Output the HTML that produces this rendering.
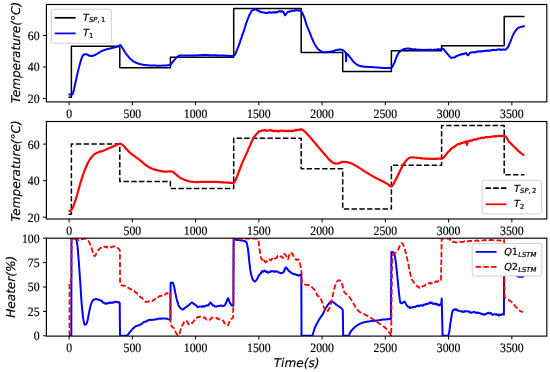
<!DOCTYPE html>
<html><head><meta charset="utf-8"><title>Temperature control plot</title>
<style>html,body{margin:0;padding:0;background:#fff;width:550px;height:372px;overflow:hidden}svg{display:block;text-rendering:geometricPrecision}</style>
</head><body>
<svg width="550" height="372" viewBox="0 0 550 372">
<rect width="550" height="372" fill="#fff"/>
<defs>
<clipPath id="c0"><rect x="46.40" y="4.50" width="500.40" height="97.40"/></clipPath>
<clipPath id="c1"><rect x="46.40" y="121.50" width="500.40" height="97.50"/></clipPath>
<clipPath id="c2"><rect x="46.40" y="238.20" width="500.40" height="97.90"/></clipPath>
</defs>
<polyline clip-path="url(#c0)" points="68.60,97.30 71.40,97.30 71.40,46.30 119.80,46.30 119.80,67.80 170.40,67.80 170.40,57.30 233.70,57.30 233.70,8.50 301.20,8.50 301.20,52.50 342.70,52.50 342.70,71.40 391.40,71.40 391.40,50.80 441.60,50.80 441.60,45.80 504.20,45.80 504.20,16.40 524.50,16.40" fill="none" stroke="#000" stroke-width="1.50" stroke-linejoin="round" stroke-linecap="butt"/>
<polyline clip-path="url(#c0)" points="68.4,94.6 69.0,94.6 69.6,94.6 70.2,94.6 70.8,94.6 71.4,94.6 72.0,94.6 72.5,94.1 73.0,92.9 73.5,91.4 74.0,89.5 74.5,87.1 75.0,84.7 75.5,82.4 76.0,80.2 76.5,77.9 77.0,75.6 77.5,73.3 78.0,71.1 78.5,69.0 79.1,67.0 79.6,65.1 80.1,63.2 80.6,61.4 81.1,59.8 81.6,58.3 82.1,57.0 82.6,56.0 83.1,55.3 83.6,54.8 84.1,54.5 84.6,54.4 85.2,54.3 85.8,54.2 86.3,54.2 86.9,54.3 87.4,54.6 88.0,55.0 88.6,55.3 89.1,55.5 89.7,55.8 90.2,55.9 90.8,56.0 91.4,56.0 91.9,55.9 92.5,55.8 93.1,55.7 93.7,55.5 94.3,55.3 94.8,55.1 95.4,54.8 96.0,54.5 96.5,54.2 97.1,53.9 97.6,53.6 98.2,53.2 98.7,52.9 99.3,52.5 100.0,52.1 100.6,51.7 101.3,51.3 101.9,51.0 102.6,50.7 103.2,50.4 103.9,50.2 104.5,49.9 105.2,49.7 105.8,49.5 106.5,49.4 107.1,49.2 107.8,49.1 108.4,48.9 109.0,48.7 109.7,48.6 110.3,48.4 111.0,48.3 111.6,48.1 112.2,47.9 112.9,47.8 113.5,47.6 114.2,47.5 114.8,47.3 115.5,47.2 116.1,47.0 116.8,46.9 117.4,46.7 118.1,46.5 118.6,46.2 119.2,45.7 119.8,45.3 120.3,45.1 120.9,45.4 121.4,46.3 122.0,47.3 122.6,48.3 123.2,49.2 123.8,50.3 124.4,51.3 125.0,52.2 125.6,53.1 126.3,54.0 126.9,54.9 127.6,55.7 128.2,56.5 128.8,57.2 129.4,57.8 129.9,58.4 130.5,59.0 131.1,59.5 131.7,60.0 132.2,60.4 132.8,60.9 133.3,61.3 133.9,61.6 134.5,61.9 135.1,62.2 135.7,62.5 136.3,62.8 136.9,63.1 137.5,63.3 138.1,63.5 138.7,63.7 139.3,63.9 139.9,64.1 140.6,64.2 141.2,64.4 141.8,64.5 142.4,64.6 143.0,64.7 143.6,64.8 144.3,64.9 144.9,65.0 145.5,65.1 146.1,65.1 146.8,65.2 147.4,65.3 148.0,65.3 148.6,65.3 149.3,65.4 149.9,65.4 150.5,65.5 151.2,65.5 151.8,65.5 152.4,65.6 153.1,65.6 153.7,65.6 154.3,65.6 154.9,65.6 155.6,65.6 156.2,65.7 156.8,65.7 157.4,65.7 158.1,65.7 158.7,65.7 159.3,65.7 159.9,65.7 160.6,65.7 161.2,65.7 161.8,65.6 162.5,65.6 163.1,65.6 163.7,65.6 164.4,65.5 165.0,65.5 165.6,65.5 166.2,65.4 166.8,65.4 167.4,65.3 168.0,65.3 168.6,65.2 169.2,65.1 169.8,65.0 170.5,64.8 171.0,64.3 171.5,63.5 172.0,62.7 172.6,62.0 173.2,61.3 173.7,60.6 174.3,59.9 174.9,59.3 175.5,58.7 176.0,58.0 176.6,57.4 177.1,56.9 177.7,56.5 178.3,56.2 178.8,55.9 179.4,55.6 179.9,55.5 180.5,55.4 181.1,55.4 181.7,55.4 182.3,55.4 182.9,55.4 183.5,55.4 184.1,55.4 184.7,55.4 185.3,55.4 185.8,55.4 186.4,55.4 187.0,55.5 187.6,55.5 188.1,55.5 188.7,55.6 189.3,55.6 189.8,55.6 190.4,55.6 191.0,55.6 191.6,55.6 192.3,55.6 192.9,55.5 193.5,55.5 194.1,55.5 194.8,55.5 195.4,55.4 196.0,55.4 196.6,55.4 197.2,55.3 197.9,55.3 198.5,55.3 199.1,55.3 199.7,55.2 200.4,55.2 201.0,55.2 201.6,55.1 202.2,55.1 202.9,55.1 203.5,55.1 204.1,55.1 204.7,55.1 205.3,55.1 205.9,55.1 206.6,55.1 207.2,55.1 207.8,55.1 208.4,55.1 209.0,55.2 209.6,55.2 210.2,55.2 210.8,55.2 211.5,55.2 212.1,55.2 212.7,55.2 213.3,55.3 213.9,55.3 214.5,55.3 215.1,55.3 215.7,55.3 216.4,55.3 217.0,55.4 217.6,55.4 218.2,55.4 218.8,55.4 219.4,55.4 220.0,55.5 220.6,55.5 221.2,55.5 221.8,55.5 222.3,55.6 222.9,55.6 223.5,55.6 224.1,55.6 224.7,55.7 225.3,55.7 225.9,55.7 226.5,55.8 227.1,55.8 227.7,55.8 228.3,55.8 228.8,55.8 229.4,55.9 230.0,55.9 230.6,55.9 231.2,55.9 231.8,55.9 232.4,55.9 232.9,55.8 233.5,55.7 234.1,55.4 234.6,55.1 235.3,54.1 235.9,52.5 236.6,50.8 237.2,49.3 237.7,48.0 238.3,46.7 238.8,45.3 239.4,44.0 240.0,42.0 240.6,39.9 241.1,38.7 241.7,37.1 242.3,34.9 242.9,33.8 243.4,32.2 244.0,30.4 244.5,28.7 245.1,26.9 245.7,24.9 246.2,23.1 246.8,21.9 247.3,20.1 247.9,18.6 248.5,17.4 249.0,15.7 249.6,14.6 250.1,13.9 250.7,12.6 251.4,11.1 252.0,10.5 252.7,10.1 253.3,9.7 253.8,9.7 254.4,9.5 255.0,9.4 255.6,9.3 256.1,9.4 256.7,9.7 257.2,10.2 257.8,10.8 258.4,10.5 258.9,10.4 259.5,10.9 260.0,11.8 260.6,12.2 261.2,12.1 261.8,12.2 262.4,12.3 263.1,12.4 263.7,12.4 264.3,12.6 264.9,12.8 265.5,13.0 266.1,13.0 266.7,12.9 267.3,12.9 267.9,12.8 268.5,12.6 269.1,12.0 269.7,12.1 270.3,12.7 271.0,12.8 271.6,12.6 272.2,12.5 272.8,12.3 273.5,12.4 274.1,12.7 274.7,12.3 275.3,11.9 276.0,12.2 276.6,12.7 277.2,12.0 277.9,11.7 278.5,11.7 279.1,11.1 279.8,10.9 280.4,11.3 281.0,11.8 281.5,11.3 282.1,11.3 282.6,11.5 283.2,11.7 283.8,12.8 284.5,14.2 285.1,15.3 285.8,14.6 286.4,13.7 287.1,12.9 287.7,12.0 288.3,11.9 288.9,11.7 289.5,11.2 290.1,11.4 290.7,11.5 291.3,11.1 291.9,10.5 292.5,10.8 293.1,10.8 293.7,10.7 294.3,10.9 294.9,10.4 295.5,10.1 296.1,10.2 296.7,10.3 297.4,10.4 298.0,10.3 298.6,10.3 299.2,10.6 299.9,10.7 300.5,10.8 301.2,11.3 301.8,12.0 302.3,13.0 302.9,14.2 303.4,15.5 304.0,16.9 304.6,18.4 305.1,20.1 305.7,22.0 306.2,23.8 306.8,25.4 307.4,26.9 308.0,28.3 308.5,29.7 309.1,31.1 309.7,32.5 310.3,33.9 310.8,35.4 311.4,36.8 311.9,38.2 312.5,39.5 313.1,40.8 313.6,42.0 314.2,43.2 314.7,44.3 315.3,45.2 315.9,46.1 316.5,47.0 317.1,47.8 317.7,48.6 318.3,49.3 318.9,49.8 319.5,50.3 320.1,50.7 320.7,51.1 321.3,51.5 322.0,51.8 322.6,52.1 323.2,52.2 323.8,52.3 324.4,52.3 325.0,52.3 325.6,52.2 326.2,52.2 326.8,52.1 327.4,52.1 328.0,52.0 328.6,51.9 329.3,51.9 329.9,51.8 330.5,51.7 331.2,51.5 331.8,51.4 332.4,51.3 333.1,51.2 333.7,51.0 334.3,50.8 334.8,50.6 335.4,50.4 335.9,50.1 336.5,50.0 337.1,49.9 337.6,49.8 338.2,49.8 338.8,49.7 339.4,49.6 339.9,49.6 340.5,49.6 341.1,49.7 341.6,49.8 342.1,50.0 342.7,50.2 343.3,50.5 343.9,51.0 344.5,51.5 345.1,51.9 345.7,52.6 346.1,61.3 346.4,53.4 347.0,53.7 347.6,54.3 348.2,55.0 348.8,55.7 349.4,56.4 350.0,57.1 350.6,57.9 351.2,58.6 351.7,59.4 352.3,60.2 352.8,61.0 353.4,61.6 354.0,62.2 354.6,62.8 355.2,63.3 355.9,63.8 356.5,64.3 357.1,64.7 357.7,65.0 358.3,65.3 358.9,65.5 359.5,65.8 360.1,66.0 360.7,66.1 361.3,66.3 361.9,66.4 362.5,66.5 363.0,66.5 363.6,66.6 364.2,66.7 364.8,66.7 365.3,66.7 365.9,66.8 366.5,66.8 367.0,66.9 367.6,66.9 368.2,66.9 368.8,67.0 369.5,67.0 370.1,67.0 370.7,67.1 371.3,67.1 372.0,67.1 372.6,67.2 373.2,67.2 373.8,67.2 374.4,67.3 374.9,67.3 375.5,67.4 376.1,67.4 376.7,67.5 377.2,67.5 377.8,67.5 378.4,67.6 379.0,67.6 379.6,67.7 380.1,67.7 380.7,67.8 381.3,67.8 381.9,67.8 382.6,67.9 383.2,67.9 383.8,68.0 384.5,68.0 385.1,68.0 385.7,68.1 386.4,68.1 387.0,68.1 387.6,68.1 388.2,68.1 388.8,68.0 389.4,68.0 390.0,67.9 390.6,67.9 391.2,67.8 391.8,67.5 392.3,66.8 392.9,65.8 393.4,64.7 394.0,63.6 394.6,62.4 395.1,60.9 395.7,59.3 396.2,57.8 396.8,56.5 397.4,55.3 398.0,54.3 398.5,53.2 399.1,52.4 399.7,51.7 400.3,51.2 400.8,50.7 401.4,50.3 401.9,50.0 402.5,49.7 403.1,49.5 403.7,49.2 404.3,48.8 404.9,49.0 405.5,48.9 406.1,48.7 406.7,48.4 407.3,48.4 408.0,48.7 408.6,48.5 409.2,48.6 409.9,49.0 410.5,48.8 411.1,48.9 411.8,49.2 412.4,49.3 413.0,49.3 413.6,49.4 414.3,49.6 414.9,49.3 415.5,49.1 416.1,49.4 416.8,49.9 417.4,49.8 418.0,49.6 418.6,49.8 419.2,49.7 419.8,49.7 420.4,49.7 421.0,49.7 421.6,49.9 422.2,49.9 422.9,49.8 423.5,50.0 424.1,49.9 424.7,49.8 425.3,50.1 425.9,50.0 426.5,49.8 427.1,50.0 427.7,50.0 428.3,49.7 428.9,49.8 429.5,50.0 430.1,49.8 430.8,49.6 431.4,49.7 432.0,49.9 432.6,49.9 433.2,49.9 433.8,49.8 434.4,49.5 435.0,49.7 435.6,49.9 436.2,49.8 436.9,49.4 437.5,49.2 438.1,49.3 438.7,49.3 439.4,49.4 440.0,49.6 440.6,49.2 441.2,49.1 441.8,48.9 442.3,48.7 442.9,48.6 443.6,49.0 444.2,49.9 444.9,50.8 445.5,51.5 446.0,52.2 446.6,52.9 447.1,53.6 447.7,54.2 448.3,54.9 448.9,55.6 449.5,56.3 450.1,56.9 450.7,57.4 451.3,57.8 451.9,57.9 452.5,57.7 453.0,57.5 453.6,57.6 454.1,57.5 454.7,57.3 455.3,57.0 455.8,56.4 456.4,56.1 456.9,56.2 457.5,55.9 458.1,55.4 458.6,55.2 459.2,55.0 459.8,54.8 460.4,54.8 461.0,54.5 461.7,53.9 462.3,54.0 462.9,54.2 463.5,54.1 464.1,53.7 464.6,53.6 465.2,53.6 465.7,53.2 466.3,53.1 467.0,54.4 467.7,55.3 468.3,55.0 468.8,54.3 469.4,53.6 469.9,52.9 470.5,52.5 471.1,52.5 471.7,52.4 472.3,52.4 472.9,52.2 473.5,52.2 474.1,52.4 474.6,52.3 475.2,52.3 475.8,52.3 476.4,52.1 477.0,51.6 477.6,51.6 478.2,51.6 478.8,51.3 479.4,51.5 480.0,51.5 480.6,51.3 481.2,51.4 481.9,51.5 482.5,51.1 483.1,50.9 483.7,51.1 484.3,51.1 484.9,51.0 485.5,50.9 486.1,50.6 486.7,50.6 487.3,50.8 487.9,50.6 488.5,50.5 489.1,50.8 489.7,50.8 490.3,50.6 490.9,50.2 491.5,50.1 492.1,50.4 492.7,50.1 493.3,49.8 493.9,49.8 494.5,49.9 495.1,49.9 495.8,49.9 496.4,50.0 497.0,49.7 497.7,49.4 498.3,49.4 498.9,49.4 499.6,49.3 500.2,49.7 500.8,50.1 501.3,49.7 501.9,49.5 502.5,49.6 503.0,49.5 503.6,49.5 504.2,49.7 504.7,49.7 505.3,49.7 506.0,49.4 506.6,48.8 507.3,48.0 507.9,47.2 508.4,46.2 509.0,45.0 509.5,43.7 510.1,42.4 510.7,41.0 511.2,39.5 511.8,38.0 512.3,36.6 512.9,35.3 513.5,34.2 514.0,33.1 514.6,32.1 515.1,31.3 515.7,30.5 516.3,29.8 516.9,29.1 517.4,28.5 518.0,28.1 518.6,27.7 519.2,27.5 519.7,27.3 520.3,27.1 520.8,26.9 521.4,26.8 522.0,26.7 522.5,26.5 523.1,26.4 523.7,26.3 524.2,26.1 524.8,26.0" fill="none" stroke="#0000ff" stroke-width="2.00" stroke-linejoin="round" stroke-linecap="butt"/>
<polyline clip-path="url(#c1)" points="68.60,214.20 71.40,214.20 71.40,144.10 119.80,144.10 119.80,181.60 170.40,181.60 170.40,188.60 233.70,188.60 233.70,138.30 301.20,138.30 301.20,168.80 342.70,168.80 342.70,209.00 391.40,209.00 391.40,165.30 441.60,165.30 441.60,125.60 504.20,125.60 504.20,174.80 524.50,174.80" fill="none" stroke="#000" stroke-width="1.50" stroke-linejoin="round" stroke-linecap="butt" stroke-dasharray="5.4,2.34"/>
<polyline clip-path="url(#c1)" points="68.7,211.7 69.3,211.2 70.0,210.8 70.6,210.4 71.3,209.9 71.9,209.2 72.5,208.2 73.1,206.9 73.7,205.3 74.3,203.5 74.9,201.8 75.5,200.0 76.1,198.0 76.8,195.8 77.4,193.7 78.0,191.5 78.6,189.4 79.2,187.3 79.8,185.2 80.4,183.0 81.1,180.9 81.7,178.9 82.3,177.0 82.9,175.2 83.5,173.4 84.2,171.7 84.8,170.1 85.4,168.6 86.0,167.1 86.6,165.7 87.2,164.3 87.8,163.0 88.5,161.8 89.1,160.7 89.7,159.7 90.3,158.8 90.9,157.9 91.6,157.1 92.2,156.4 92.8,155.8 93.4,155.2 94.0,154.7 94.6,154.2 95.2,153.8 95.9,153.5 96.5,153.1 97.1,152.8 97.7,152.5 98.3,152.3 98.9,152.0 99.5,151.8 100.1,151.6 100.7,151.4 101.3,151.3 101.9,151.2 102.5,151.0 103.1,150.8 103.7,150.5 104.4,150.3 105.0,150.0 105.6,149.7 106.2,149.4 106.9,149.1 107.5,148.8 108.1,148.5 108.7,148.3 109.2,148.0 109.8,147.8 110.4,147.6 110.9,147.4 111.5,147.1 112.1,146.9 112.7,146.7 113.2,146.4 113.8,146.2 114.4,145.9 115.0,145.6 115.6,145.4 116.2,145.1 116.8,144.8 117.4,144.5 118.0,144.3 118.7,144.0 119.3,143.8 120.0,143.7 120.6,143.8 121.2,144.1 121.7,144.4 122.3,144.8 122.9,145.2 123.5,145.8 124.1,146.4 124.7,147.1 125.3,147.8 125.9,148.5 126.5,149.1 127.1,149.7 127.7,150.3 128.3,151.0 128.9,151.6 129.5,152.2 130.1,152.8 130.7,153.3 131.3,153.8 131.8,154.2 132.4,154.7 133.0,155.1 133.6,155.5 134.1,155.9 134.7,156.3 135.3,156.7 135.8,157.1 136.4,157.5 137.0,158.0 137.6,158.4 138.3,158.9 138.9,159.4 139.5,159.8 140.1,160.3 140.8,160.8 141.4,161.3 142.0,161.8 142.6,162.3 143.1,162.8 143.6,163.3 144.2,163.8 144.8,164.3 145.4,164.8 146.0,165.3 146.7,165.7 147.3,166.1 147.9,166.5 148.5,166.9 149.1,167.2 149.7,167.6 150.4,167.9 151.0,168.2 151.6,168.5 152.2,168.7 152.9,169.0 153.5,169.2 154.1,169.4 154.7,169.6 155.2,169.7 155.8,169.9 156.4,170.0 156.9,170.2 157.5,170.3 158.1,170.4 158.7,170.6 159.2,170.7 159.8,170.8 160.4,170.9 161.0,171.1 161.7,171.2 162.3,171.3 162.9,171.4 163.5,171.5 164.2,171.6 164.8,171.7 165.4,171.7 166.0,171.7 166.6,171.6 167.2,171.6 167.9,171.5 168.5,171.5 169.1,171.4 169.7,171.4 170.3,171.4 170.8,171.5 171.4,171.5 171.9,171.6 172.5,171.7 173.1,171.9 173.6,172.3 174.2,172.9 174.7,173.4 175.3,173.9 175.9,174.4 176.5,174.9 177.1,175.4 177.7,175.9 178.3,176.4 178.9,176.9 179.5,177.3 180.1,177.7 180.8,178.1 181.4,178.4 182.0,178.7 182.7,179.0 183.3,179.3 183.9,179.6 184.6,179.9 185.2,180.1 185.8,180.3 186.4,180.5 187.1,180.7 187.7,180.9 188.3,181.1 188.9,181.2 189.6,181.4 190.2,181.5 190.8,181.6 191.4,181.7 192.1,181.8 192.7,181.8 193.3,181.9 194.0,182.0 194.6,182.0 195.2,182.1 195.9,182.1 196.5,182.1 197.1,182.1 197.7,182.1 198.3,182.1 198.9,182.0 199.5,182.0 200.1,182.0 200.8,181.9 201.4,181.9 202.0,181.9 202.6,181.9 203.2,181.8 203.8,181.8 204.4,181.8 205.0,181.8 205.6,181.8 206.2,181.8 206.8,181.8 207.4,181.8 208.0,181.8 208.6,181.8 209.2,181.8 209.8,181.8 210.4,181.8 211.0,181.8 211.6,181.8 212.2,181.8 212.8,181.8 213.4,181.8 214.0,181.8 214.6,181.8 215.2,181.8 215.8,181.9 216.4,181.9 217.0,181.9 217.7,182.0 218.3,182.0 218.9,182.1 219.5,182.1 220.1,182.2 220.7,182.2 221.3,182.3 221.9,182.3 222.5,182.3 223.1,182.4 223.7,182.4 224.3,182.4 224.9,182.5 225.5,182.5 226.2,182.5 226.8,182.6 227.4,182.6 228.0,182.7 228.6,182.7 229.2,182.7 229.8,182.8 230.4,182.8 231.0,182.8 231.6,182.9 232.1,182.9 232.7,183.0 233.3,183.0 233.9,182.7 234.4,182.0 235.0,181.2 235.6,180.1 236.2,178.8 236.8,177.2 237.4,175.5 238.1,173.7 238.7,172.0 239.3,170.5 239.9,168.9 240.4,167.4 241.0,166.0 241.6,164.5 242.2,163.1 242.8,161.7 243.4,160.4 244.0,159.0 244.6,157.7 245.2,156.4 245.8,155.1 246.4,153.8 247.0,152.5 247.6,151.1 248.1,149.8 248.7,148.4 249.3,147.1 250.0,145.5 250.7,143.9 251.3,142.3 252.0,140.9 252.7,139.7 253.3,138.5 253.9,137.4 254.6,136.4 255.1,135.7 255.7,135.0 256.2,134.4 256.8,133.9 257.3,133.3 258.0,132.7 258.6,131.7 259.3,131.0 260.0,131.2 260.6,131.2 261.2,131.1 261.8,130.7 262.3,130.3 262.9,130.3 263.5,130.4 264.1,130.6 264.6,130.3 265.2,130.0 265.8,130.2 266.3,130.6 266.9,130.9 267.4,130.5 268.0,130.5 268.6,130.5 269.2,130.4 269.8,130.4 270.4,130.0 271.0,130.5 271.6,130.7 272.2,130.3 272.8,130.8 273.4,131.2 274.0,130.8 274.6,130.9 275.2,131.1 275.8,130.9 276.4,130.8 277.0,130.9 277.6,131.3 278.2,131.3 278.8,131.4 279.4,131.0 280.1,130.7 280.7,130.7 281.3,130.6 281.9,130.5 282.5,130.6 283.1,130.9 283.7,130.8 284.3,130.8 284.9,131.0 285.6,130.8 286.2,131.1 286.8,131.2 287.4,130.9 288.1,130.9 288.7,131.1 289.3,130.9 289.9,131.0 290.6,131.0 291.2,130.8 291.8,131.3 292.5,130.8 293.1,130.7 293.7,130.8 294.4,130.6 295.0,130.4 295.6,129.9 296.3,129.9 296.9,130.3 297.5,130.1 298.2,129.7 298.8,130.0 299.4,130.0 300.1,129.3 300.7,129.3 301.3,129.4 301.9,129.6 302.5,129.8 303.1,130.1 303.7,130.6 304.3,131.1 304.9,131.6 305.5,132.2 306.1,132.8 306.6,133.4 307.2,134.1 307.8,134.7 308.4,135.4 309.0,136.0 309.6,136.7 310.2,137.4 310.8,138.1 311.4,138.8 312.0,139.5 312.6,140.2 313.1,140.8 313.7,141.5 314.3,142.2 314.9,142.9 315.5,143.6 316.1,144.3 316.7,145.0 317.3,145.7 317.9,146.4 318.5,147.1 319.1,147.8 319.7,148.5 320.2,149.2 320.8,149.8 321.4,150.5 322.0,151.2 322.6,151.9 323.2,152.6 323.8,153.3 324.4,154.0 325.0,154.7 325.6,155.4 326.2,156.1 326.8,156.8 327.4,157.5 327.9,158.2 328.5,158.9 329.1,159.5 329.7,160.1 330.3,160.7 330.9,161.2 331.5,161.7 332.1,162.2 332.7,162.5 333.2,162.8 333.8,163.0 334.4,163.2 334.9,163.4 335.4,163.6 336.0,163.6 336.6,163.6 337.2,163.5 337.8,163.5 338.4,163.4 339.0,163.3 339.6,163.0 340.2,162.7 340.8,162.4 341.4,162.1 342.0,161.9 342.6,161.8 343.2,161.8 343.8,161.8 344.5,161.9 345.1,161.9 345.7,162.0 346.3,162.1 347.0,162.2 347.6,162.3 348.2,162.4 348.8,162.5 349.5,162.7 350.1,162.9 350.7,163.2 351.4,163.4 352.0,163.7 352.6,164.0 353.3,164.3 353.9,164.6 354.5,164.9 355.1,165.2 355.8,165.6 356.4,166.0 357.0,166.4 357.6,166.8 358.3,167.2 358.9,167.6 359.5,168.0 360.1,168.4 360.8,168.8 361.4,169.2 362.0,169.6 362.7,170.1 363.3,170.5 363.9,170.9 364.6,171.3 365.2,171.7 365.8,172.1 366.4,172.5 367.1,172.9 367.7,173.2 368.3,173.6 368.9,174.0 369.6,174.4 370.2,174.7 370.8,175.1 371.4,175.5 372.1,175.8 372.7,176.2 373.3,176.5 374.0,176.9 374.6,177.2 375.2,177.5 375.9,177.9 376.5,178.2 377.1,178.5 377.7,178.8 378.4,179.1 379.0,179.4 379.6,179.7 380.2,180.1 380.9,180.4 381.5,180.7 382.1,181.0 382.7,181.3 383.4,181.7 384.0,182.0 384.6,182.4 385.3,182.7 385.9,183.1 386.5,183.4 387.2,183.8 387.8,184.2 388.4,184.6 389.0,185.1 389.6,185.6 390.1,186.1 390.7,186.4 391.3,186.5 391.9,186.2 392.5,185.5 393.1,184.5 393.8,183.4 394.4,182.1 395.0,181.0 395.6,179.9 396.2,178.7 396.9,177.4 397.5,176.2 398.1,174.8 398.8,173.5 399.4,172.2 400.0,171.0 400.6,169.9 401.1,168.7 401.7,167.6 402.3,166.5 402.9,165.4 403.4,164.4 404.0,163.5 404.6,162.7 405.2,161.9 405.8,161.1 406.3,160.5 406.9,159.8 407.5,159.3 408.1,158.7 408.8,158.2 409.4,157.8 410.0,157.6 410.6,157.5 411.2,157.5 411.8,157.4 412.4,157.4 413.0,157.4 413.6,157.4 414.2,157.5 414.9,157.5 415.5,157.6 416.1,157.7 416.8,157.8 417.4,157.8 418.0,157.9 418.6,158.0 419.2,158.0 419.8,158.1 420.3,158.2 420.9,158.2 421.5,158.3 422.1,158.4 422.7,158.4 423.2,158.5 423.8,158.5 424.4,158.6 425.0,158.6 425.6,158.6 426.2,158.7 426.8,158.7 427.3,158.7 427.9,158.7 428.5,158.7 429.1,158.8 429.7,158.8 430.2,158.8 430.8,158.8 431.4,158.8 432.0,158.8 432.6,158.8 433.2,158.8 433.7,158.8 434.3,158.8 434.9,158.8 435.5,158.8 436.1,158.8 436.6,158.8 437.2,158.7 437.8,158.7 438.4,158.7 439.0,158.7 439.6,158.7 440.1,158.7 440.7,158.6 441.3,158.6 442.0,158.4 442.6,158.1 443.3,157.7 444.0,157.1 444.7,156.3 445.4,155.4 446.1,154.5 446.7,153.6 447.4,152.9 448.0,152.1 448.6,151.4 449.2,151.1 449.7,150.6 450.3,149.7 450.9,149.2 451.5,148.7 452.1,147.9 452.8,147.6 453.4,147.4 454.1,146.8 454.7,146.4 455.3,146.1 455.9,145.5 456.5,145.1 457.1,144.7 457.8,144.3 458.4,144.0 459.0,144.0 459.6,144.1 460.2,143.6 460.8,143.0 461.4,143.2 462.1,143.2 462.7,142.8 463.3,142.5 463.9,142.3 464.5,142.4 465.1,142.1 465.6,141.7 466.2,141.4 467.0,145.0 467.8,141.6 468.4,141.0 469.0,141.1 469.6,140.7 470.2,140.5 470.9,140.7 471.5,140.6 472.1,140.4 472.7,140.1 473.3,139.7 473.9,139.6 474.5,139.6 475.1,139.5 475.7,139.2 476.3,139.3 476.9,139.3 477.5,139.1 478.1,138.8 478.7,138.5 479.3,138.5 479.9,138.4 480.5,138.1 481.1,137.9 481.7,137.8 482.3,137.7 482.8,137.9 483.4,138.0 484.0,137.8 484.6,137.5 485.2,137.3 485.8,137.1 486.4,137.0 487.0,137.2 487.6,137.3 488.2,137.1 488.8,137.0 489.4,137.0 490.0,136.9 490.6,136.8 491.2,136.8 491.8,136.6 492.4,136.5 493.0,136.4 493.6,136.3 494.2,136.4 494.8,136.5 495.4,136.2 495.9,136.3 496.5,136.4 497.1,136.2 497.7,135.9 498.3,135.8 498.9,135.9 499.5,136.0 500.1,136.0 500.7,136.1 501.3,136.1 502.0,136.1 502.6,136.0 503.2,135.9 503.8,135.9 504.4,135.9 504.9,136.1 505.5,136.5 506.0,137.0 506.6,137.6 507.1,138.4 507.6,139.3 508.2,140.3 508.7,141.2 509.2,141.9 509.8,142.5 510.4,143.0 510.9,143.5 511.4,144.1 512.0,144.6 512.6,145.2 513.2,145.8 513.8,146.5 514.5,147.1 515.1,147.7 515.7,148.3 516.3,148.9 516.9,149.5 517.5,150.1 518.1,150.6 518.7,151.2 519.2,151.7 519.8,152.2 520.4,152.7 521.0,153.2 521.7,153.7 522.3,154.1 523.0,154.5 523.6,154.9 524.3,155.3" fill="none" stroke="#ff0000" stroke-width="2.20" stroke-linejoin="round" stroke-linecap="butt"/>
<polyline clip-path="url(#c2)" points="69.1,335.8 69.6,335.8 70.2,335.8 70.8,335.8 71.3,335.8 71.5,238.4 72.1,238.4 72.8,238.4 73.4,238.4 74.0,238.5 74.6,238.5 75.3,238.5 75.9,238.6 76.8,241.5 77.6,246.8 78.9,262.9 80.2,281.7 81.6,303.2 82.9,316.6 83.5,320.4 84.2,323.5 84.8,324.7 85.4,324.5 86.1,324.1 86.7,323.4 87.2,321.9 87.8,319.3 88.3,316.6 88.9,313.4 89.6,310.0 90.2,307.2 90.8,305.0 91.5,303.0 92.2,301.4 92.8,300.5 93.3,300.1 93.9,299.7 94.4,299.4 95.0,299.3 95.5,299.1 96.1,298.9 96.7,299.2 97.2,299.3 97.8,299.4 98.4,299.8 98.9,299.7 99.5,300.0 100.1,300.2 100.7,300.5 101.3,300.8 101.8,301.0 102.4,301.7 103.0,302.6 103.6,302.8 104.1,302.7 104.7,303.2 105.3,303.7 105.9,303.7 106.4,303.3 107.0,303.5 107.6,303.3 108.2,303.1 108.7,303.2 109.3,302.7 109.9,302.5 110.4,302.5 111.0,302.9 111.6,302.7 112.2,302.5 112.9,302.7 113.5,302.5 114.1,302.3 114.7,302.1 115.4,301.7 116.0,301.8 116.6,302.1 117.2,302.3 117.8,302.0 118.3,302.1 118.9,302.2 119.7,303.0 120.0,335.8 120.6,335.8 121.2,335.8 121.8,335.8 122.4,335.8 123.0,335.8 123.5,335.8 124.1,335.8 124.7,335.8 125.3,335.8 125.9,335.8 126.5,335.7 127.1,335.6 127.7,335.2 128.3,334.3 128.9,333.4 129.5,332.6 130.1,331.8 130.7,331.2 131.3,330.4 131.8,329.9 132.4,329.3 133.0,328.5 133.6,328.2 134.1,327.6 134.7,327.0 135.3,326.5 135.8,326.2 136.4,326.1 137.0,325.9 137.6,325.7 138.2,325.4 138.8,325.2 139.4,325.1 140.0,324.9 140.6,324.5 141.2,324.2 141.8,323.9 142.4,323.3 143.0,322.8 143.6,322.3 144.2,321.9 144.8,321.8 145.4,321.6 146.0,321.4 146.7,320.9 147.3,320.5 147.9,320.5 148.5,320.2 149.1,320.0 149.7,320.0 150.4,319.8 151.0,319.8 151.6,319.9 152.2,319.9 152.9,319.7 153.5,319.7 154.1,319.8 154.7,319.6 155.2,319.3 155.8,319.3 156.4,319.3 156.9,319.3 157.5,319.1 158.1,318.8 158.7,318.6 159.2,318.6 159.8,318.7 160.4,318.9 161.0,318.6 161.7,318.4 162.3,318.4 162.9,318.4 163.5,318.5 164.2,318.6 164.8,318.6 165.4,318.4 166.0,318.5 166.6,318.7 167.2,318.8 167.9,319.2 168.5,319.4 169.1,319.4 169.7,319.5 170.4,319.7 170.6,283.0 171.2,282.7 171.9,282.5 172.5,282.5 173.2,283.6 173.9,285.8 174.6,289.1 175.3,292.9 176.0,296.0 176.6,298.9 177.3,301.4 177.9,303.1 178.4,304.8 178.9,306.1 179.5,307.0 180.1,307.7 180.7,308.4 181.2,308.4 181.8,308.9 182.4,309.5 183.0,309.4 183.5,309.2 184.1,308.6 184.6,308.0 185.2,307.6 185.8,307.4 186.4,307.0 187.0,306.2 187.6,305.9 188.2,305.5 188.8,305.2 189.4,304.7 190.0,303.9 190.6,303.4 191.1,302.9 191.7,302.6 192.3,302.4 192.9,302.9 193.4,303.8 194.0,303.9 194.5,304.2 195.1,304.8 195.7,305.3 196.3,305.5 196.9,306.2 197.5,307.1 198.1,307.1 198.7,306.9 199.3,306.7 199.9,306.4 200.6,306.6 201.2,306.6 201.8,306.9 202.5,306.7 203.1,306.0 203.7,306.5 204.4,306.7 205.0,306.0 205.6,305.8 206.2,305.5 206.8,305.3 207.4,305.6 208.0,305.6 208.6,305.0 209.2,304.2 209.9,303.1 210.6,302.5 211.2,303.0 211.7,303.9 212.3,304.7 212.8,305.3 213.4,305.3 214.0,305.7 214.7,306.4 215.3,306.5 215.9,306.5 216.6,306.5 217.2,306.5 217.8,306.1 218.5,306.0 219.1,306.1 219.7,305.8 220.3,305.5 220.9,305.6 221.5,305.7 222.1,305.8 222.7,306.2 223.3,305.9 223.9,305.6 224.5,305.5 225.0,305.0 225.6,303.8 226.2,302.5 226.8,300.9 227.5,299.1 228.1,298.2 228.7,299.2 229.2,301.2 229.8,302.7 230.5,303.6 231.1,304.5 231.8,305.4 232.3,305.3 232.9,305.4 233.4,305.6 233.6,238.2 234.2,239.2 234.8,239.4 235.4,239.6 236.0,239.8 236.7,239.9 237.3,239.9 237.9,240.0 238.5,240.1 239.1,240.2 239.7,240.2 240.3,240.3 240.9,240.4 241.5,240.4 242.1,240.5 242.7,240.6 243.3,240.7 243.9,240.9 244.6,241.0 245.2,241.3 245.8,241.6 246.4,242.1 246.9,243.6 247.5,246.3 248.1,250.1 248.6,254.8 249.8,266.1 250.5,270.9 251.2,274.5 251.9,277.0 252.5,278.9 253.2,280.2 253.8,280.9 254.3,281.4 254.9,281.6 255.5,281.1 256.2,280.3 256.8,279.4 257.4,278.4 258.0,277.2 258.5,275.8 259.1,275.3 259.7,274.6 260.3,273.8 260.8,273.5 261.4,272.3 261.9,271.2 262.5,271.5 263.1,271.8 263.6,271.1 264.2,270.6 264.7,270.6 265.3,271.3 265.9,271.9 266.5,271.4 267.1,271.6 267.7,272.6 268.3,272.7 268.9,272.2 269.5,272.2 270.1,271.9 270.7,271.0 271.2,271.4 271.8,271.6 272.4,271.1 273.0,271.3 273.6,271.3 274.2,271.4 274.8,271.9 275.4,271.4 276.0,271.1 276.6,271.3 277.2,271.5 277.8,272.0 278.4,272.3 279.0,272.4 279.6,272.5 280.2,273.1 280.8,273.3 281.4,272.9 282.0,272.9 282.5,273.0 283.1,272.4 283.7,272.0 284.3,270.8 285.0,268.5 285.6,267.5 286.2,267.4 286.8,268.2 287.3,269.2 287.9,269.6 288.5,270.6 289.0,271.2 289.6,271.3 290.1,272.1 290.7,272.6 291.3,272.6 291.9,272.9 292.5,273.5 293.2,274.1 293.8,274.0 294.4,274.0 295.0,274.3 295.6,274.2 296.2,274.8 296.8,275.1 297.4,275.0 298.0,275.3 298.6,275.7 299.2,275.4 299.9,274.9 300.6,274.5 301.3,275.0 301.5,335.8 302.1,335.8 302.7,335.8 303.3,335.8 303.9,335.8 304.6,335.8 305.2,335.8 305.8,335.8 306.4,335.8 307.0,335.8 307.6,335.8 308.2,335.8 308.8,335.8 309.5,335.8 310.1,335.8 310.7,335.8 311.3,335.8 311.9,335.8 312.5,335.2 313.0,333.7 313.6,331.8 314.1,329.8 314.7,328.2 315.3,326.8 315.9,325.5 316.5,324.2 317.2,323.0 317.8,321.9 318.4,320.8 319.0,319.7 319.6,318.7 320.3,317.8 320.9,316.9 321.5,316.0 322.2,315.1 322.8,314.1 323.4,313.0 323.9,311.9 324.5,310.6 325.0,309.4 325.6,308.4 326.2,307.4 326.8,306.5 327.3,305.7 327.9,304.9 328.5,304.2 329.1,303.5 329.6,302.7 330.2,302.1 330.7,301.6 331.3,301.4 331.9,301.5 332.4,301.7 333.0,302.1 333.5,302.4 334.1,302.8 334.7,303.2 335.2,303.7 335.8,304.2 336.3,304.7 336.9,305.1 337.5,305.5 338.1,305.9 338.6,306.2 339.2,306.6 339.8,307.0 340.4,307.4 340.9,307.9 341.4,308.4 342.0,309.0 342.8,310.0 343.2,335.8 343.8,335.8 344.4,335.8 345.1,335.8 345.7,335.8 346.3,335.8 346.9,335.8 347.6,335.8 348.2,335.8 348.8,335.4 349.4,334.5 349.9,333.2 350.5,332.0 351.1,331.0 351.7,330.3 352.3,329.6 352.9,329.0 353.5,328.4 354.1,327.8 354.7,327.3 355.3,326.8 355.9,326.3 356.5,325.9 357.1,325.4 357.7,325.0 358.3,324.6 358.9,324.3 359.5,324.0 360.1,323.7 360.8,323.4 361.4,323.2 362.0,322.9 362.7,322.7 363.3,322.5 363.9,322.3 364.6,322.1 365.2,322.0 365.8,321.9 366.4,321.8 367.1,321.7 367.7,321.6 368.3,321.5 368.9,321.4 369.6,321.3 370.2,321.3 370.8,321.2 371.4,321.1 372.1,321.1 372.7,321.0 373.3,320.9 374.0,320.9 374.6,320.8 375.2,320.7 375.9,320.7 376.5,320.6 377.1,320.5 377.7,320.4 378.4,320.3 379.0,320.2 379.6,320.1 380.2,320.0 380.9,319.9 381.5,319.8 382.1,319.7 382.7,319.6 383.4,319.6 384.0,319.5 384.6,319.5 385.3,319.4 385.9,319.4 386.5,319.3 387.2,319.3 387.8,319.2 388.4,319.2 389.0,319.1 389.7,319.1 390.3,319.0 390.9,318.9 391.4,252.0 392.1,252.1 392.7,252.2 393.4,252.5 393.9,253.2 394.4,254.5 394.9,256.2 395.6,260.3 396.3,266.1 397.7,280.2 399.1,294.3 399.8,299.7 400.5,302.8 401.2,303.2 401.9,303.4 402.5,303.1 403.0,302.4 403.6,301.9 404.2,301.5 404.9,301.9 405.5,303.1 406.2,304.5 406.8,305.4 407.3,306.0 407.9,306.8 408.4,306.8 409.0,306.9 409.6,307.7 410.1,308.1 410.7,307.7 411.2,307.3 411.8,307.6 412.4,307.4 413.0,307.0 413.6,306.7 414.2,306.8 414.8,307.1 415.4,307.1 416.0,306.4 416.7,306.0 417.3,306.2 417.9,305.6 418.5,305.6 419.1,306.2 419.7,305.6 420.3,305.5 420.9,305.6 421.5,305.2 422.1,305.6 422.7,305.8 423.3,305.0 423.9,304.6 424.5,304.7 425.2,304.5 425.8,304.1 426.4,304.0 427.0,304.2 427.6,303.8 428.2,303.4 428.8,303.5 429.4,302.8 430.0,302.5 430.6,302.8 431.2,302.9 431.8,302.5 432.4,303.1 433.0,303.9 433.6,304.1 434.2,303.9 434.8,303.5 435.4,303.6 436.0,304.2 436.6,304.5 437.1,304.1 437.7,304.3 438.3,305.1 438.9,305.5 439.5,305.0 440.0,304.6 440.6,305.1 441.2,305.1 441.7,298.6 442.6,335.8 443.2,335.8 443.8,335.8 444.4,335.8 445.0,335.8 445.7,335.8 446.3,335.8 446.9,335.8 447.5,335.8 448.1,335.8 448.7,334.6 449.3,331.6 449.8,327.6 450.4,323.4 451.0,319.7 451.6,315.7 452.3,312.1 452.9,310.3 453.5,310.1 454.1,309.7 454.8,309.1 455.4,309.7 456.0,310.0 456.6,309.4 457.2,310.0 457.8,310.7 458.4,310.8 459.0,310.6 459.6,310.9 460.2,311.1 460.8,311.2 461.4,311.7 462.1,311.3 462.7,311.4 463.3,312.0 464.0,311.8 464.6,311.1 465.2,311.4 465.9,311.5 466.5,311.2 467.1,311.2 467.7,311.3 468.4,311.5 469.0,311.8 469.6,312.0 470.2,312.6 470.9,312.7 471.5,312.5 472.1,312.4 472.7,312.3 473.4,312.1 474.0,312.0 474.6,312.0 475.3,312.5 475.9,313.0 476.5,312.5 477.2,312.4 477.8,313.1 478.4,312.8 479.0,312.8 479.7,313.3 480.3,313.2 480.9,313.8 481.5,313.9 482.2,313.8 482.8,314.2 483.4,314.7 484.0,314.4 484.5,314.2 485.1,314.5 485.7,314.2 486.2,313.8 486.8,313.5 487.4,313.1 488.0,312.8 488.5,312.8 489.1,313.3 489.7,313.5 490.3,313.1 491.0,313.1 491.6,313.9 492.2,314.8 492.8,314.9 493.5,314.5 494.1,314.2 494.7,314.3 495.3,314.5 496.0,314.4 496.6,314.3 497.2,314.4 497.9,314.9 498.5,315.5 499.1,315.2 499.8,314.5 500.4,314.9 501.0,314.9 501.6,314.4 502.1,314.1 502.7,314.1 503.3,314.6 503.9,314.7 504.2,250.0 504.8,250.7 505.5,252.4 506.1,254.8 506.7,257.5 507.4,260.0 508.0,262.0 508.6,263.4 509.1,264.7 509.7,265.9 510.3,267.0 510.9,268.1 511.4,269.1 512.0,270.0 512.6,270.9 513.1,271.7 513.7,272.5 514.3,273.3 514.9,273.9 515.4,274.5 516.0,275.0 516.6,275.4 517.1,275.8 517.7,276.2 518.3,276.5 518.8,276.7 519.4,276.8 520.0,276.8 520.6,276.8 521.1,276.8 521.7,276.8 522.3,276.8 523.0,276.5 523.7,276.0" fill="none" stroke="#0000ff" stroke-width="2.00" stroke-linejoin="round" stroke-linecap="butt"/>
<polyline clip-path="url(#c2)" points="69.5,335.8 69.5,283.5 70.1,283.1 70.7,281.3 71.3,277.5 71.6,238.6 72.2,238.6 72.7,238.6 73.3,238.6 73.9,238.6 74.4,238.6 75.0,238.6 75.6,238.7 76.1,238.7 76.7,238.7 77.2,238.9 77.8,239.5 78.3,240.1 78.9,240.6 79.4,240.8 80.1,240.6 80.8,240.1 81.4,239.6 82.1,239.2 82.6,239.1 83.2,238.9 83.7,238.8 84.3,238.7 84.8,238.7 85.4,238.8 85.9,239.0 86.5,239.3 87.1,239.7 87.7,240.2 88.2,240.8 88.8,241.4 89.3,242.3 89.9,243.5 90.4,245.1 91.0,246.6 91.5,248.1 92.1,250.0 92.8,252.1 93.4,254.1 94.1,255.6 94.7,256.2 95.2,255.7 95.8,254.6 96.4,253.2 96.9,252.1 97.5,251.1 98.2,250.1 98.8,249.6 99.5,248.8 100.1,248.1 100.7,248.0 101.3,247.7 101.9,247.5 102.5,247.8 103.1,247.9 103.7,247.3 104.3,246.8 104.9,246.7 105.5,246.9 106.1,247.3 106.7,246.7 107.3,247.0 107.9,247.8 108.5,247.7 109.2,247.6 109.8,247.4 110.4,247.0 111.0,247.3 111.6,247.3 112.2,246.8 112.8,246.7 113.4,246.3 114.0,246.2 114.6,246.3 115.2,246.5 115.8,246.7 116.4,246.9 117.1,247.3 117.7,247.9 118.3,248.5 118.9,248.9 119.4,249.7 119.9,250.5 120.1,284.4 120.7,284.8 121.3,285.1 122.0,285.3 122.6,285.6 123.2,285.9 123.8,285.8 124.5,285.6 125.1,285.6 125.7,285.8 126.3,286.1 127.0,286.7 127.6,287.2 128.2,287.7 128.8,288.1 129.5,288.6 130.1,289.2 130.7,289.1 131.3,289.2 131.8,290.0 132.4,290.4 133.0,290.8 133.6,291.1 134.1,291.0 134.7,291.5 135.3,292.3 135.8,292.5 136.4,292.6 137.0,293.1 137.6,294.2 138.3,294.7 138.9,295.3 139.5,296.0 140.1,296.9 140.8,297.3 141.4,297.5 142.0,298.1 142.6,298.5 143.1,299.7 143.7,300.4 144.3,300.8 144.9,301.5 145.4,301.6 146.0,301.9 146.6,301.9 147.2,301.8 147.8,301.7 148.4,301.5 148.9,301.5 149.5,301.3 150.1,301.8 150.7,302.1 151.3,301.5 151.9,301.3 152.5,300.9 153.1,300.1 153.7,300.1 154.3,299.8 154.9,298.8 155.5,298.7 156.1,298.4 156.7,297.5 157.3,297.7 158.0,297.5 158.6,296.8 159.2,296.4 159.8,295.9 160.4,296.1 161.0,296.0 161.6,295.7 162.2,295.6 162.8,295.3 163.4,295.5 164.0,295.3 164.6,294.6 165.2,294.6 165.8,293.9 166.4,293.0 167.0,293.2 167.6,293.6 168.2,293.0 168.9,292.6 169.5,293.4 170.2,294.3 170.6,324.0 171.2,325.5 171.7,326.3 172.2,326.8 172.8,327.2 173.3,327.5 173.9,328.2 174.5,329.3 175.0,330.6 175.6,331.9 176.1,333.1 176.7,333.9 177.3,334.4 177.8,334.9 178.4,335.2 179.0,335.3 179.7,333.8 180.3,330.8 181.0,328.6 181.6,326.9 182.1,325.5 182.7,324.9 183.2,323.7 183.8,322.6 184.4,321.7 184.9,321.0 185.5,321.5 186.0,321.5 186.6,321.1 187.2,321.5 187.7,322.5 188.3,323.9 188.8,324.3 189.4,324.3 190.0,324.6 190.6,324.1 191.1,323.1 191.7,323.0 192.3,323.0 192.9,322.4 193.5,321.2 194.1,320.8 194.7,320.0 195.3,318.5 195.9,318.1 196.5,318.0 197.1,317.6 197.7,317.0 198.3,317.0 198.9,317.2 199.5,316.8 200.1,316.5 200.7,317.1 201.3,317.7 201.9,317.7 202.5,317.6 203.2,317.8 203.8,317.6 204.4,317.3 205.0,317.4 205.6,318.5 206.2,319.3 206.8,319.6 207.4,319.3 208.0,319.2 208.6,319.8 209.2,319.9 209.8,319.6 210.4,319.4 211.0,318.7 211.6,317.7 212.2,317.7 212.8,317.6 213.4,317.5 214.0,317.3 214.6,317.5 215.2,317.9 215.9,317.8 216.5,317.8 217.1,318.6 217.7,319.0 218.3,318.7 218.9,318.8 219.5,319.4 220.1,319.4 220.7,319.4 221.3,319.4 221.9,319.7 222.5,320.3 223.0,320.4 223.6,321.1 224.1,322.6 224.7,323.4 225.3,323.8 225.9,324.1 226.4,324.8 227.0,325.5 227.6,325.4 228.2,325.2 228.7,323.7 229.3,322.1 229.8,320.6 230.4,319.4 231.0,319.2 231.5,318.6 232.1,318.5 232.6,318.2 233.2,316.9 233.7,238.6 234.3,238.6 234.9,238.6 235.5,238.6 236.1,238.6 236.7,238.6 237.3,238.6 237.8,238.6 238.4,238.6 239.0,238.6 239.6,238.6 240.2,238.6 240.8,238.6 241.4,238.6 242.0,238.6 242.6,238.6 243.2,238.6 243.8,238.6 244.4,238.6 245.0,238.6 245.6,238.6 246.1,238.6 246.7,238.6 247.3,238.6 247.9,238.6 248.5,238.6 249.1,238.6 249.7,238.6 250.3,238.6 250.9,238.6 251.5,238.6 252.1,238.6 252.7,238.6 253.3,238.6 253.9,238.6 254.4,238.6 255.0,238.6 255.6,238.6 256.2,238.6 256.8,238.6 257.4,238.6 258.0,238.6 258.6,240.9 259.1,245.9 259.7,250.5 260.4,254.8 261.1,258.5 261.7,259.4 262.2,259.3 262.8,260.3 263.3,261.8 263.9,261.6 264.4,260.7 265.0,261.7 265.6,262.3 266.1,261.3 266.7,261.5 267.3,261.1 267.9,260.5 268.5,260.0 269.2,259.3 269.8,259.9 270.4,260.4 271.0,260.3 271.6,259.2 272.2,258.5 272.8,258.2 273.4,257.3 274.0,257.4 274.6,258.3 275.2,258.7 275.8,258.3 276.4,258.2 277.0,257.2 277.6,255.7 278.2,255.8 278.8,255.8 279.4,255.4 280.0,255.7 280.6,256.5 281.1,256.9 281.7,256.6 282.3,257.2 282.9,258.1 283.4,256.9 284.0,254.8 284.5,253.6 285.1,254.6 285.7,255.1 286.2,255.9 286.8,258.0 287.3,258.4 287.9,259.2 288.5,258.1 289.0,255.7 289.6,254.7 290.1,253.1 290.7,253.2 291.3,253.7 291.9,253.1 292.4,253.5 293.0,255.0 293.6,256.3 294.2,256.9 294.7,257.8 295.3,258.6 295.8,259.7 296.4,260.0 297.0,259.3 297.5,259.4 298.1,259.9 298.6,259.7 299.2,261.0 299.9,263.8 300.6,266.1 301.5,271.7 302.0,283.0 302.6,283.6 303.2,283.9 303.7,284.1 304.3,284.3 304.9,284.4 305.5,284.6 306.1,284.7 306.7,284.8 307.3,284.9 307.9,285.0 308.5,285.1 309.1,285.3 309.7,285.6 310.2,285.9 310.8,286.4 311.3,286.8 311.9,287.3 312.5,287.8 313.0,288.3 313.6,288.8 314.1,289.4 314.7,290.1 315.3,291.1 315.9,292.4 316.4,293.7 317.0,294.9 317.6,295.7 318.2,296.1 318.8,296.3 319.4,296.6 320.0,297.0 320.6,297.9 321.1,299.4 321.7,301.1 322.3,302.8 322.9,304.7 323.6,306.7 324.2,308.4 324.9,309.9 325.5,311.2 326.2,311.8 326.8,311.6 327.4,311.2 327.9,310.6 328.5,309.9 329.1,309.0 329.6,307.6 330.1,306.0 330.7,304.2 331.4,301.7 332.0,298.7 332.7,295.7 333.4,292.7 334.0,289.8 334.7,287.3 335.2,285.5 335.8,283.8 336.3,282.5 336.9,281.6 337.5,281.1 338.0,280.6 338.6,280.3 339.2,280.2 339.9,280.4 340.5,280.9 341.2,281.6 341.9,283.3 342.6,285.8 343.3,288.9 344.0,291.5 344.7,292.5 345.3,293.2 346.0,293.8 346.6,294.3 347.1,294.7 347.6,295.2 348.2,295.7 348.8,296.3 349.4,297.0 349.9,297.8 350.5,298.6 351.1,299.4 351.7,300.3 352.2,301.2 352.8,302.2 353.3,303.2 353.9,304.2 354.5,305.2 355.0,306.3 355.6,307.3 356.1,308.2 356.7,309.0 357.3,309.7 357.9,310.3 358.5,310.9 359.2,311.4 359.8,311.9 360.4,312.3 361.0,312.7 361.6,313.0 362.2,313.3 362.8,313.6 363.4,313.9 364.0,314.1 364.6,314.4 365.2,314.7 365.8,315.0 366.4,315.3 367.0,315.6 367.6,315.9 368.2,316.2 368.8,316.6 369.4,316.9 370.0,317.3 370.6,317.7 371.2,318.0 371.9,318.5 372.5,318.9 373.1,319.3 373.7,319.7 374.3,320.1 374.9,320.5 375.5,320.9 376.1,321.4 376.7,321.8 377.3,322.2 377.9,322.6 378.5,323.0 379.1,323.4 379.7,323.8 380.3,324.2 380.9,324.6 381.5,325.0 382.1,325.4 382.7,325.8 383.3,326.3 383.9,326.7 384.6,327.2 385.2,327.7 385.8,328.2 386.4,328.8 387.0,329.4 387.5,330.1 388.1,330.9 388.6,331.7 389.2,332.5 389.9,333.4 390.6,334.4 391.2,335.8 392.0,263.2 392.9,254.8 393.6,254.1 394.2,253.8 394.9,253.4 395.5,252.9 396.0,252.4 396.6,251.9 397.1,251.2 397.7,250.5 398.2,249.5 398.8,248.2 399.3,246.8 399.9,245.7 400.6,244.5 401.2,243.4 401.9,242.9 402.6,243.4 403.2,244.7 403.9,246.3 404.5,247.9 405.0,249.8 405.6,251.9 406.3,254.5 406.9,257.4 407.6,260.4 408.2,263.1 408.7,266.1 409.2,269.0 409.8,271.7 410.5,274.7 411.1,277.5 411.8,279.5 412.4,280.3 413.0,281.0 413.6,281.9 414.2,283.0 414.8,283.9 415.4,284.4 415.9,285.2 416.5,285.5 417.1,286.0 417.7,286.9 418.2,286.6 418.8,287.0 419.3,287.9 419.9,287.2 420.5,286.8 421.1,287.1 421.7,287.3 422.3,286.7 422.9,286.0 423.5,286.1 424.1,286.0 424.7,285.7 425.3,285.0 425.9,284.3 426.6,283.7 427.2,283.4 427.8,283.7 428.4,283.5 429.0,283.3 429.6,282.8 430.2,282.9 430.8,283.6 431.4,283.6 432.0,283.1 432.6,282.8 433.2,282.5 433.8,282.5 434.4,282.9 435.0,282.2 435.6,281.3 436.2,281.3 436.8,281.6 437.4,281.8 438.0,281.6 438.6,280.8 439.2,281.0 439.8,280.8 440.4,280.5 441.0,280.2 441.7,238.6 442.3,238.6 442.9,238.6 443.5,238.6 444.1,238.6 444.7,238.6 445.3,238.6 445.9,238.6 446.5,238.6 447.1,238.6 447.7,238.6 448.3,238.6 448.9,238.6 449.5,238.6 450.0,239.4 450.5,240.5 451.1,241.1 451.8,241.6 452.4,242.2 453.0,242.1 453.6,241.7 454.3,241.9 454.9,242.2 455.5,242.4 456.1,242.4 456.8,242.4 457.4,242.3 458.0,242.3 458.6,242.1 459.2,241.7 459.8,241.9 460.4,241.9 461.0,241.9 461.6,242.0 462.2,241.8 462.9,241.8 463.5,241.8 464.1,241.4 464.7,241.2 465.3,241.4 465.9,241.6 466.5,241.3 467.1,241.2 467.7,241.5 468.3,241.3 468.9,241.1 469.5,240.9 470.1,240.8 470.7,241.0 471.3,241.0 471.9,240.7 472.4,240.9 473.0,241.1 473.6,240.8 474.2,240.9 474.8,240.9 475.4,240.7 476.0,240.8 476.6,240.5 477.2,240.4 477.8,240.6 478.4,240.8 479.0,241.0 479.6,240.6 480.2,240.3 480.8,240.2 481.4,240.2 482.0,240.5 482.6,240.7 483.2,240.5 483.7,240.2 484.3,240.0 484.9,240.1 485.5,240.5 486.1,240.2 486.7,240.1 487.3,240.0 487.9,239.7 488.5,239.8 489.1,240.1 489.7,240.1 490.3,240.0 490.9,240.1 491.5,240.0 492.1,240.1 492.7,240.1 493.3,240.1 493.9,240.2 494.5,240.1 495.0,240.2 495.6,240.4 496.2,240.4 496.8,240.4 497.4,240.5 498.0,240.4 498.6,240.2 499.2,240.5 499.8,240.7 500.4,240.7 501.0,240.7 501.5,240.5 502.1,240.3 502.7,239.8 503.2,239.6 503.8,239.5 504.1,241.2 504.6,297.1 505.3,297.9 506.0,298.3 506.7,298.6 507.3,299.0 507.8,299.4 508.4,299.7 508.9,300.1 509.5,300.5 510.1,300.9 510.7,301.3 511.2,301.8 511.8,302.3 512.4,302.8 513.0,303.4 513.5,304.1 514.1,304.8 514.6,305.5 515.2,306.2 515.8,306.8 516.3,307.4 516.9,307.9 517.4,308.5 518.0,309.0 518.6,309.5 519.1,310.0 519.7,310.5 520.2,311.0 520.8,311.3 521.4,311.5 522.0,311.7 522.5,311.9 523.1,312.1" fill="none" stroke="#ff0000" stroke-width="1.80" stroke-linejoin="round" stroke-linecap="butt" stroke-dasharray="5.4,2.34"/>
<rect x="46.40" y="4.50" width="500.40" height="97.40" fill="none" stroke="#000" stroke-width="1.15"/>
<rect x="46.40" y="121.50" width="500.40" height="97.50" fill="none" stroke="#000" stroke-width="1.15"/>
<rect x="46.40" y="238.20" width="500.40" height="97.90" fill="none" stroke="#000" stroke-width="1.15"/>
<line x1="69.10" y1="101.90" x2="69.10" y2="105.30" stroke="#000" stroke-width="1.0"/>
<text transform="translate(69.10,117.50) scale(0.920,1)" text-anchor="middle" style="font-family:'Liberation Serif','Times New Roman',serif;font-size:12.8px;stroke:#000;stroke-width:0.18px">0</text>
<line x1="132.35" y1="101.90" x2="132.35" y2="105.30" stroke="#000" stroke-width="1.0"/>
<text transform="translate(132.35,117.50) scale(0.920,1)" text-anchor="middle" style="font-family:'Liberation Serif','Times New Roman',serif;font-size:12.8px;stroke:#000;stroke-width:0.18px">500</text>
<line x1="195.60" y1="101.90" x2="195.60" y2="105.30" stroke="#000" stroke-width="1.0"/>
<text transform="translate(195.60,117.50) scale(0.920,1)" text-anchor="middle" style="font-family:'Liberation Serif','Times New Roman',serif;font-size:12.8px;stroke:#000;stroke-width:0.18px">1000</text>
<line x1="258.85" y1="101.90" x2="258.85" y2="105.30" stroke="#000" stroke-width="1.0"/>
<text transform="translate(258.85,117.50) scale(0.920,1)" text-anchor="middle" style="font-family:'Liberation Serif','Times New Roman',serif;font-size:12.8px;stroke:#000;stroke-width:0.18px">1500</text>
<line x1="322.10" y1="101.90" x2="322.10" y2="105.30" stroke="#000" stroke-width="1.0"/>
<text transform="translate(322.10,117.50) scale(0.920,1)" text-anchor="middle" style="font-family:'Liberation Serif','Times New Roman',serif;font-size:12.8px;stroke:#000;stroke-width:0.18px">2000</text>
<line x1="385.35" y1="101.90" x2="385.35" y2="105.30" stroke="#000" stroke-width="1.0"/>
<text transform="translate(385.35,117.50) scale(0.920,1)" text-anchor="middle" style="font-family:'Liberation Serif','Times New Roman',serif;font-size:12.8px;stroke:#000;stroke-width:0.18px">2500</text>
<line x1="448.60" y1="101.90" x2="448.60" y2="105.30" stroke="#000" stroke-width="1.0"/>
<text transform="translate(448.60,117.50) scale(0.920,1)" text-anchor="middle" style="font-family:'Liberation Serif','Times New Roman',serif;font-size:12.8px;stroke:#000;stroke-width:0.18px">3000</text>
<line x1="511.85" y1="101.90" x2="511.85" y2="105.30" stroke="#000" stroke-width="1.0"/>
<text transform="translate(511.85,117.50) scale(0.920,1)" text-anchor="middle" style="font-family:'Liberation Serif','Times New Roman',serif;font-size:12.8px;stroke:#000;stroke-width:0.18px">3500</text>
<line x1="69.10" y1="219.00" x2="69.10" y2="222.40" stroke="#000" stroke-width="1.0"/>
<text transform="translate(69.10,234.60) scale(0.920,1)" text-anchor="middle" style="font-family:'Liberation Serif','Times New Roman',serif;font-size:12.8px;stroke:#000;stroke-width:0.18px">0</text>
<line x1="132.35" y1="219.00" x2="132.35" y2="222.40" stroke="#000" stroke-width="1.0"/>
<text transform="translate(132.35,234.60) scale(0.920,1)" text-anchor="middle" style="font-family:'Liberation Serif','Times New Roman',serif;font-size:12.8px;stroke:#000;stroke-width:0.18px">500</text>
<line x1="195.60" y1="219.00" x2="195.60" y2="222.40" stroke="#000" stroke-width="1.0"/>
<text transform="translate(195.60,234.60) scale(0.920,1)" text-anchor="middle" style="font-family:'Liberation Serif','Times New Roman',serif;font-size:12.8px;stroke:#000;stroke-width:0.18px">1000</text>
<line x1="258.85" y1="219.00" x2="258.85" y2="222.40" stroke="#000" stroke-width="1.0"/>
<text transform="translate(258.85,234.60) scale(0.920,1)" text-anchor="middle" style="font-family:'Liberation Serif','Times New Roman',serif;font-size:12.8px;stroke:#000;stroke-width:0.18px">1500</text>
<line x1="322.10" y1="219.00" x2="322.10" y2="222.40" stroke="#000" stroke-width="1.0"/>
<text transform="translate(322.10,234.60) scale(0.920,1)" text-anchor="middle" style="font-family:'Liberation Serif','Times New Roman',serif;font-size:12.8px;stroke:#000;stroke-width:0.18px">2000</text>
<line x1="385.35" y1="219.00" x2="385.35" y2="222.40" stroke="#000" stroke-width="1.0"/>
<text transform="translate(385.35,234.60) scale(0.920,1)" text-anchor="middle" style="font-family:'Liberation Serif','Times New Roman',serif;font-size:12.8px;stroke:#000;stroke-width:0.18px">2500</text>
<line x1="448.60" y1="219.00" x2="448.60" y2="222.40" stroke="#000" stroke-width="1.0"/>
<text transform="translate(448.60,234.60) scale(0.920,1)" text-anchor="middle" style="font-family:'Liberation Serif','Times New Roman',serif;font-size:12.8px;stroke:#000;stroke-width:0.18px">3000</text>
<line x1="511.85" y1="219.00" x2="511.85" y2="222.40" stroke="#000" stroke-width="1.0"/>
<text transform="translate(511.85,234.60) scale(0.920,1)" text-anchor="middle" style="font-family:'Liberation Serif','Times New Roman',serif;font-size:12.8px;stroke:#000;stroke-width:0.18px">3500</text>
<line x1="69.10" y1="336.10" x2="69.10" y2="339.50" stroke="#000" stroke-width="1.0"/>
<text transform="translate(69.10,351.70) scale(0.920,1)" text-anchor="middle" style="font-family:'Liberation Serif','Times New Roman',serif;font-size:12.8px;stroke:#000;stroke-width:0.18px">0</text>
<line x1="132.35" y1="336.10" x2="132.35" y2="339.50" stroke="#000" stroke-width="1.0"/>
<text transform="translate(132.35,351.70) scale(0.920,1)" text-anchor="middle" style="font-family:'Liberation Serif','Times New Roman',serif;font-size:12.8px;stroke:#000;stroke-width:0.18px">500</text>
<line x1="195.60" y1="336.10" x2="195.60" y2="339.50" stroke="#000" stroke-width="1.0"/>
<text transform="translate(195.60,351.70) scale(0.920,1)" text-anchor="middle" style="font-family:'Liberation Serif','Times New Roman',serif;font-size:12.8px;stroke:#000;stroke-width:0.18px">1000</text>
<line x1="258.85" y1="336.10" x2="258.85" y2="339.50" stroke="#000" stroke-width="1.0"/>
<text transform="translate(258.85,351.70) scale(0.920,1)" text-anchor="middle" style="font-family:'Liberation Serif','Times New Roman',serif;font-size:12.8px;stroke:#000;stroke-width:0.18px">1500</text>
<line x1="322.10" y1="336.10" x2="322.10" y2="339.50" stroke="#000" stroke-width="1.0"/>
<text transform="translate(322.10,351.70) scale(0.920,1)" text-anchor="middle" style="font-family:'Liberation Serif','Times New Roman',serif;font-size:12.8px;stroke:#000;stroke-width:0.18px">2000</text>
<line x1="385.35" y1="336.10" x2="385.35" y2="339.50" stroke="#000" stroke-width="1.0"/>
<text transform="translate(385.35,351.70) scale(0.920,1)" text-anchor="middle" style="font-family:'Liberation Serif','Times New Roman',serif;font-size:12.8px;stroke:#000;stroke-width:0.18px">2500</text>
<line x1="448.60" y1="336.10" x2="448.60" y2="339.50" stroke="#000" stroke-width="1.0"/>
<text transform="translate(448.60,351.70) scale(0.920,1)" text-anchor="middle" style="font-family:'Liberation Serif','Times New Roman',serif;font-size:12.8px;stroke:#000;stroke-width:0.18px">3000</text>
<line x1="511.85" y1="336.10" x2="511.85" y2="339.50" stroke="#000" stroke-width="1.0"/>
<text transform="translate(511.85,351.70) scale(0.920,1)" text-anchor="middle" style="font-family:'Liberation Serif','Times New Roman',serif;font-size:12.8px;stroke:#000;stroke-width:0.18px">3500</text>
<line x1="43.00" y1="98.40" x2="46.40" y2="98.40" stroke="#000" stroke-width="1.0"/>
<text transform="translate(39.60,102.80) scale(0.920,1)" text-anchor="end" style="font-family:'Liberation Serif','Times New Roman',serif;font-size:12.8px;stroke:#000;stroke-width:0.18px">20</text>
<line x1="43.00" y1="66.95" x2="46.40" y2="66.95" stroke="#000" stroke-width="1.0"/>
<text transform="translate(39.60,71.35) scale(0.920,1)" text-anchor="end" style="font-family:'Liberation Serif','Times New Roman',serif;font-size:12.8px;stroke:#000;stroke-width:0.18px">40</text>
<line x1="43.00" y1="35.50" x2="46.40" y2="35.50" stroke="#000" stroke-width="1.0"/>
<text transform="translate(39.60,39.90) scale(0.920,1)" text-anchor="end" style="font-family:'Liberation Serif','Times New Roman',serif;font-size:12.8px;stroke:#000;stroke-width:0.18px">60</text>
<line x1="43.00" y1="217.20" x2="46.40" y2="217.20" stroke="#000" stroke-width="1.0"/>
<text transform="translate(39.60,221.60) scale(0.920,1)" text-anchor="end" style="font-family:'Liberation Serif','Times New Roman',serif;font-size:12.8px;stroke:#000;stroke-width:0.18px">20</text>
<line x1="43.00" y1="180.65" x2="46.40" y2="180.65" stroke="#000" stroke-width="1.0"/>
<text transform="translate(39.60,185.05) scale(0.920,1)" text-anchor="end" style="font-family:'Liberation Serif','Times New Roman',serif;font-size:12.8px;stroke:#000;stroke-width:0.18px">40</text>
<line x1="43.00" y1="144.10" x2="46.40" y2="144.10" stroke="#000" stroke-width="1.0"/>
<text transform="translate(39.60,148.50) scale(0.920,1)" text-anchor="end" style="font-family:'Liberation Serif','Times New Roman',serif;font-size:12.8px;stroke:#000;stroke-width:0.18px">60</text>
<line x1="43.00" y1="335.80" x2="46.40" y2="335.80" stroke="#000" stroke-width="1.0"/>
<text transform="translate(39.60,340.20) scale(0.920,1)" text-anchor="end" style="font-family:'Liberation Serif','Times New Roman',serif;font-size:12.8px;stroke:#000;stroke-width:0.18px">0</text>
<line x1="43.00" y1="311.40" x2="46.40" y2="311.40" stroke="#000" stroke-width="1.0"/>
<text transform="translate(39.60,315.80) scale(0.920,1)" text-anchor="end" style="font-family:'Liberation Serif','Times New Roman',serif;font-size:12.8px;stroke:#000;stroke-width:0.18px">25</text>
<line x1="43.00" y1="287.00" x2="46.40" y2="287.00" stroke="#000" stroke-width="1.0"/>
<text transform="translate(39.60,291.40) scale(0.920,1)" text-anchor="end" style="font-family:'Liberation Serif','Times New Roman',serif;font-size:12.8px;stroke:#000;stroke-width:0.18px">50</text>
<line x1="43.00" y1="262.60" x2="46.40" y2="262.60" stroke="#000" stroke-width="1.0"/>
<text transform="translate(39.60,267.00) scale(0.920,1)" text-anchor="end" style="font-family:'Liberation Serif','Times New Roman',serif;font-size:12.8px;stroke:#000;stroke-width:0.18px">75</text>
<line x1="43.00" y1="238.20" x2="46.40" y2="238.20" stroke="#000" stroke-width="1.0"/>
<text transform="translate(39.60,242.60) scale(0.920,1)" text-anchor="end" style="font-family:'Liberation Serif','Times New Roman',serif;font-size:12.8px;stroke:#000;stroke-width:0.18px">100</text>
<text transform="translate(19.60,52.50) rotate(-90)" text-anchor="middle" style="font-family:'DejaVu Sans',sans-serif;font-style:oblique;font-size:12.1px;stroke:#000;stroke-width:0.15px">Temperature(°C)</text>
<text transform="translate(19.60,170.90) rotate(-90)" text-anchor="middle" style="font-family:'DejaVu Sans',sans-serif;font-style:oblique;font-size:12.1px;stroke:#000;stroke-width:0.15px">Temperature(°C)</text>
<text transform="translate(15.00,286.80) rotate(-90)" text-anchor="middle" style="font-family:'DejaVu Sans',sans-serif;font-style:oblique;font-size:12.1px;stroke:#000;stroke-width:0.15px">Heater(%)</text>
<text x="296.60" y="366.5" text-anchor="middle" style="font-family:'DejaVu Sans',sans-serif;font-style:oblique;font-size:12.1px;stroke:#000;stroke-width:0.15px">Time(s)</text>
<rect x="51.30" y="9.20" width="60.10" height="34.10" rx="2" ry="2" fill="#fff" fill-opacity="1" stroke="#cccccc" stroke-width="0.9"/>
<line x1="54.70" y1="17.80" x2="75.70" y2="17.80" stroke="#000" stroke-width="1.75"/>
<text><tspan x="83.00" y="20.60" style="font-family:'DejaVu Sans',sans-serif;stroke:#000;stroke-width:0.2px;font-size:9.750px;font-style:oblique;">T</tspan><tspan x="88.96" y="22.24" style="font-family:'DejaVu Sans',sans-serif;stroke:#000;stroke-width:0.2px;font-size:6.825px;font-style:oblique;">S</tspan><tspan x="93.29" y="22.24" style="font-family:'DejaVu Sans',sans-serif;stroke:#000;stroke-width:0.2px;font-size:6.825px;font-style:oblique;">P</tspan><tspan x="97.40" y="22.24" style="font-family:'DejaVu Sans',sans-serif;stroke:#000;stroke-width:0.2px;font-size:6.825px;">,</tspan><tspan x="100.90" y="22.24" style="font-family:'DejaVu Sans',sans-serif;stroke:#000;stroke-width:0.2px;font-size:6.825px;">1</tspan></text>
<line x1="54.70" y1="33.40" x2="75.70" y2="33.40" stroke="#0000ff" stroke-width="1.75"/>
<text><tspan x="83.00" y="36.20" style="font-family:'DejaVu Sans',sans-serif;stroke:#000;stroke-width:0.2px;font-size:9.750px;font-style:oblique;">T</tspan><tspan x="88.96" y="37.84" style="font-family:'DejaVu Sans',sans-serif;stroke:#000;stroke-width:0.2px;font-size:6.825px;">1</tspan></text>
<rect x="482.10" y="180.30" width="59.50" height="33.70" rx="2" ry="2" fill="#fff" fill-opacity="1" stroke="#cccccc" stroke-width="0.9"/>
<line x1="485.50" y1="188.10" x2="506.50" y2="188.10" stroke="#000" stroke-width="1.75" stroke-dasharray="5.4,2.34"/>
<text><tspan x="514.10" y="191.70" style="font-family:'DejaVu Sans',sans-serif;stroke:#000;stroke-width:0.2px;font-size:9.750px;font-style:oblique;">T</tspan><tspan x="520.06" y="193.34" style="font-family:'DejaVu Sans',sans-serif;stroke:#000;stroke-width:0.2px;font-size:6.825px;font-style:oblique;">S</tspan><tspan x="524.39" y="193.34" style="font-family:'DejaVu Sans',sans-serif;stroke:#000;stroke-width:0.2px;font-size:6.825px;font-style:oblique;">P</tspan><tspan x="528.50" y="193.34" style="font-family:'DejaVu Sans',sans-serif;stroke:#000;stroke-width:0.2px;font-size:6.825px;">,</tspan><tspan x="532.00" y="193.34" style="font-family:'DejaVu Sans',sans-serif;stroke:#000;stroke-width:0.2px;font-size:6.825px;">2</tspan></text>
<line x1="485.50" y1="204.30" x2="506.50" y2="204.30" stroke="#ff0000" stroke-width="1.75"/>
<text><tspan x="514.10" y="207.20" style="font-family:'DejaVu Sans',sans-serif;stroke:#000;stroke-width:0.2px;font-size:9.750px;font-style:oblique;">T</tspan><tspan x="520.06" y="208.84" style="font-family:'DejaVu Sans',sans-serif;stroke:#000;stroke-width:0.2px;font-size:6.825px;">2</tspan></text>
<rect x="472.20" y="243.50" width="69.60" height="32.50" rx="2" ry="2" fill="#fff" fill-opacity="1" stroke="#cccccc" stroke-width="0.9"/>
<line x1="475.60" y1="251.90" x2="496.60" y2="251.90" stroke="#0000ff" stroke-width="1.75"/>
<text><tspan x="504.20" y="255.10" style="font-family:'DejaVu Sans',sans-serif;stroke:#000;stroke-width:0.2px;font-size:9.750px;font-style:oblique;">Q</tspan><tspan x="511.87" y="255.10" style="font-family:'DejaVu Sans',sans-serif;stroke:#000;stroke-width:0.2px;font-size:9.750px;">1</tspan><tspan x="518.17" y="256.74" style="font-family:'DejaVu Sans',sans-serif;stroke:#000;stroke-width:0.2px;font-size:6.825px;font-style:oblique;">L</tspan><tspan x="521.98" y="256.74" style="font-family:'DejaVu Sans',sans-serif;stroke:#000;stroke-width:0.2px;font-size:6.825px;font-style:oblique;">S</tspan><tspan x="526.31" y="256.74" style="font-family:'DejaVu Sans',sans-serif;stroke:#000;stroke-width:0.2px;font-size:6.825px;font-style:oblique;">T</tspan><tspan x="530.48" y="256.74" style="font-family:'DejaVu Sans',sans-serif;stroke:#000;stroke-width:0.2px;font-size:6.825px;font-style:oblique;">M</tspan></text>
<line x1="475.60" y1="266.80" x2="496.60" y2="266.80" stroke="#ff0000" stroke-width="1.75" stroke-dasharray="5.4,2.34"/>
<text><tspan x="504.20" y="270.00" style="font-family:'DejaVu Sans',sans-serif;stroke:#000;stroke-width:0.2px;font-size:9.750px;font-style:oblique;">Q</tspan><tspan x="511.87" y="270.00" style="font-family:'DejaVu Sans',sans-serif;stroke:#000;stroke-width:0.2px;font-size:9.750px;">2</tspan><tspan x="518.17" y="271.64" style="font-family:'DejaVu Sans',sans-serif;stroke:#000;stroke-width:0.2px;font-size:6.825px;font-style:oblique;">L</tspan><tspan x="521.98" y="271.64" style="font-family:'DejaVu Sans',sans-serif;stroke:#000;stroke-width:0.2px;font-size:6.825px;font-style:oblique;">S</tspan><tspan x="526.31" y="271.64" style="font-family:'DejaVu Sans',sans-serif;stroke:#000;stroke-width:0.2px;font-size:6.825px;font-style:oblique;">T</tspan><tspan x="530.48" y="271.64" style="font-family:'DejaVu Sans',sans-serif;stroke:#000;stroke-width:0.2px;font-size:6.825px;font-style:oblique;">M</tspan></text>
</svg>
</body></html>
